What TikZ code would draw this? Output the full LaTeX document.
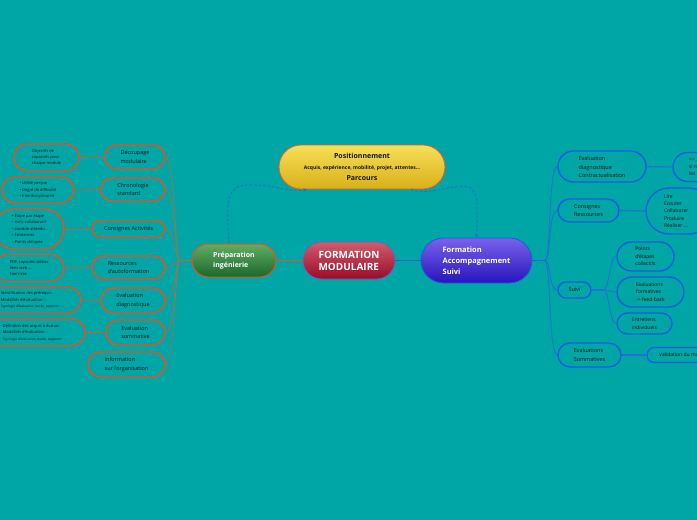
\documentclass[tikz,border=0pt]{standalone}
\usepackage{fontspec}
\setmainfont{Open Sans}
\usetikzlibrary{shapes.misc,arrows.meta,calc}
\definecolor{bg}{RGB}{0,165,165}
\definecolor{orB}{RGB}{232,82,30}
\definecolor{blB}{RGB}{22,95,225}
\definecolor{blL}{RGB}{35,110,215}
\definecolor{brL}{RGB}{150,118,88}
\definecolor{brC}{RGB}{185,100,60}
\definecolor{txt}{RGB}{22,22,22}
\definecolor{cTop}{RGB}{208,92,108}
\definecolor{cBot}{RGB}{152,12,42}
\definecolor{cBrd}{RGB}{120,90,200}
\definecolor{gTop}{RGB}{98,172,98}
\definecolor{gBot}{RGB}{25,105,45}
\definecolor{fTop}{RGB}{122,98,236}
\definecolor{fBot}{RGB}{40,20,190}
\definecolor{yTop}{RGB}{247,223,88}
\definecolor{yBot}{RGB}{216,176,24}
\definecolor{yBrd}{RGB}{225,95,40}
\newcommand{\fsz}[2]{\fontsize{#1}{#2}\selectfont}
\tikzset{
  pill/.style={rounded rectangle, inner sep=0pt, text=txt},
  lbox/.style={pill, draw=orB, line width=1.4pt},
  rbox/.style={pill, draw=blB, line width=1.4pt},
  wh/.style 2 args={minimum width=#1pt, minimum height=#2pt},
  tA/.style={font=\fsz{5.5}{8.5}, align=left},
  tL/.style={font=\fsz{4}{6.4}, align=left},
  tR/.style={font=\fsz{5.5}{8.5}, align=left},
  tRL/.style={font=\fsz{5}{7.4}, align=left},
  lcurve/.style={draw=brL, line width=0.7pt},
  lline/.style={draw=brC, line width=0.8pt},
  rcurve/.style={draw=blL, line width=0.8pt},
  mainbox/.style={pill, text=white, align=left},
  dlink/.style={draw=blL, line width=0.9pt, dash pattern=on 2.5pt off 2pt, -{Stealth[length=3.5pt,width=3.5pt]}},
}
\begin{document}
\begin{tikzpicture}[x=1pt,y=-1pt]
\useasboundingbox (0,0) rectangle (697,520);
\clip (0,0) rectangle (697,520);
\fill[bg] (0,0) rectangle (697,520);

% main nodes
\node[mainbox, wh={92}{37}, draw=cBrd, line width=0.8pt, top color=cTop, bottom color=cBot, font=\fsz{10}{12}\bfseries] (C) at (349,260.5) {FORMATION\\MODULAIRE};
\node[mainbox, wh={84}{33}, draw=orB, line width=1pt, top color=gTop, bottom color=gBot, font=\fsz{7}{10}\bfseries] (P) at (234,260.5) {Préparation\\ingénierie};
\node[mainbox, wh={111}{45}, draw=blB, line width=0.8pt, top color=fTop, bottom color=fBot, font=\fsz{7.5}{11}\bfseries] (F) at (476.5,260.5) {Formation\\Accompagnement\\Suivi};
\node[pill, wh={166}{44}, draw=yBrd, line width=0.8pt, top color=yTop, bottom color=yBot, align=center, font=\fsz{7}{11}\bfseries] (Pos) at (362,167) {Positionnement\\{\fsz{5}{6}Acquis, expérience, mobilité, projet, attentes...}\\Parcours};

% left level 2
\node[lbox, wh={60}{24}, tA] (A1) at (135,157) {Découpage\\modulaire};
\node[lbox, wh={64}{23}, tA] (A2) at (133,189.5) {Chronologie\\standard};
\node[lbox, wh={73}{16}, tA] (A3) at (128.5,229) {Consignes Activités};
\node[lbox, wh={73}{23}, tA] (A4) at (128.5,267.5) {Ressources\\d'autoformation};
\node[lbox, wh={64}{25}, tA] (A5) at (133,300.5) {Evaluation\\diagnostique};
\node[lbox, wh={59}{25}, tA] (A6) at (135.5,332.5) {Evaluation\\sommative};
\node[lbox, wh={77}{25}, tA] (A7) at (126.5,364.5) {Information\\sur l'organisation};

% left leaves
\node[lbox, wh={65}{27}, tL] (L1) at (46.5,157.5) {Objectifs de\\capacités pour\\chaque module};
\node[lbox, wh={72}{26}, tL] (L2) at (38,190) {• Utilité perçue\\• Degré de difficulté\\• Interdisciplinarité};
\node[lbox, wh={70}{40}, tL] (L3) at (29,229) {• Étape par étape\\• Indiv-collaboratif\\• Livrable attendu\\• Échéances\\• Points d'étapes};
\node[lbox, wh={70}{27}, tL] (L4) at (29,268) {PDF, capsules vidéos\\liens web ...\\Exercices};
\node[lbox, wh={102}{26}, tL] (L5) at (30,300) {Identification des prérequis\\Modalités d'évaluation :\\{\fsz{3.2}{5}Typologie d'évaluation, durée, supports}};
\node[lbox, wh={106}{27}, tL] (L6) at (32,332.5) {Définition des acquis à évaluer\\ Modalités d'évaluation :\\{\fsz{3.2}{5}Typologie d'évaluation, durée, supports}};

% right level 2
\node[rbox, wh={88}{31}, tR] (R1) at (602,166.5) {Évaluation\\diagnostique\\Contractualisation};
\node[rbox, wh={61}{23}, tR] (R2) at (588.5,210.5) {Consignes\\Ressources};
\node[rbox, wh={33}{16}, tR] (R3) at (574.5,290) {Suivi};
\node[rbox, wh={63}{24}, tR] (R4) at (589.5,355) {Evaluations\\Sommatives};

% right leaves
\node[rbox, wh={72}{29}, tRL, text width=40pt] (RL1) at (709,167) {=> ...\\si nécessaire\\les ...};
\node[rbox, wh={66}{46}, tRL, text width=30pt] (RL2) at (679,211) {Lire\\Écouter\\Collaborer\\Produire\\Réaliser ...};
\node[rbox, wh={57}{29}, tRL] (RL3) at (645.5,256.5) {Points\\d'étapes\\collectifs};
\node[rbox, wh={67}{30}, tRL] (RL4) at (650.5,292) {Evaluations\\formatives\\-> feed-back};
\node[rbox, wh={55}{21}, tRL] (RL5) at (644.5,323.5) {Entretiens\\individuels};
\node[rbox, wh={74}{15}, tRL] (RL6) at (684,355) {Validation du module};

% junctions
\coordinate (JL) at (180,260.5);
\coordinate (JR) at (545,260.5);
\coordinate (JS) at (604,290);

% main connectors
\draw[orB, line width=1.4pt] (P.west) -- (JL);
\draw[orB, line width=1.4pt] (P.east) -- (C.west);
\draw[blB, line width=1.2pt] (C.east) -- (F.west);
\draw[blB, line width=1.2pt] (F.east) -- (JR);

\foreach \n in {A1,A2,A3,A4,A5,A6,A7}
  \draw[lcurve] (JL) .. controls +(-5,0) and +(9,0) .. (\n.east);
\foreach \n in {1,...,6}
  \draw[lline] (L\n.east) -- (A\n.west);

\foreach \n in {R1,R2,R3,R4}
  \draw[rcurve] (JR) .. controls +(6,0) and +(-9,0) .. (\n.west);
\draw[rcurve, line width=1.1pt] (R1.east) -- (RL1.west);
\draw[rcurve, line width=1.1pt] (R2.east) -- (RL2.west);
\draw[rcurve, line width=1.1pt] (R4.east) -- (RL6.west);
\draw[rcurve, line width=1.1pt] (R3.east) -- (JS);
\foreach \n in {RL3,RL4,RL5}
  \draw[rcurve] (JS) .. controls +(5,0) and +(-7,0) .. (\n.west);

% dashed links
\draw[dlink] ([xshift=-5pt]P.north) .. controls (226,205) and (226,186) .. (246,185) .. controls (275,184) and (290,193) .. ([xshift=-55pt]Pos.south);
\draw[dlink] ([xshift=49pt]Pos.south) .. controls (430,196) and (450,184) .. (468,187) .. controls (478,189) and (478,205) .. (F.north);
\end{tikzpicture}
\end{document}
